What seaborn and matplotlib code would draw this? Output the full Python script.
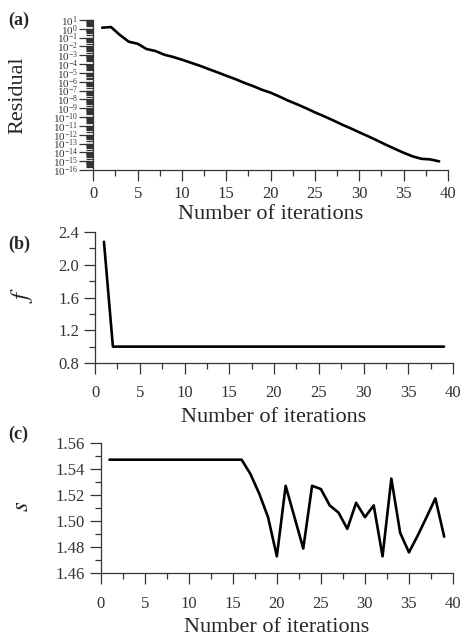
import numpy as np
import pandas as pd
import matplotlib
matplotlib.use("Agg")
import matplotlib.pyplot as plt
import matplotlib.ticker as mticker
import seaborn as sns

# ---------------- data ----------------
iterations = list(range(1, 40))

# panel (a): log10 of residual
residual_log10 = [0.13, 0.20, -0.70, -1.46, -1.69, -2.29, -2.51, -2.93, -3.19, -3.50,
                  -3.84, -4.18, -4.56, -4.93, -5.32, -5.69, -6.11, -6.48, -6.90, -7.24,
                  -7.68, -8.15, -8.56, -9.00, -9.47, -9.90, -10.35, -10.83, -11.27, -11.73,
                  -12.18, -12.65, -13.14, -13.60, -14.05, -14.45, -14.73, -14.80, -15.02]

# panel (b)
f_values = [2.28] + [1.0] * 38

# panel (c)
s_values = [1.547] * 16 + [1.536, 1.521, 1.503, 1.473, 1.527, 1.503, 1.479, 1.527,
                           1.5245, 1.512, 1.5065, 1.494, 1.514, 1.503, 1.512, 1.473,
                           1.5325, 1.491, 1.476, 1.489, 1.503, 1.5174, 1.488]

df = pd.DataFrame({"it": iterations,
                   "res": [10.0 ** v for v in residual_log10],
                   "f": f_values,
                   "s": s_values})

# ---------------- style ----------------
sns.set_style("ticks")
plt.rcParams["font.family"] = ["Liberation Serif", "DejaVu Serif"]
plt.rcParams["mathtext.fontset"] = "stix"
plt.rcParams["axes.linewidth"] = 0.9
plt.rcParams["xtick.color"] = "#333333"
plt.rcParams["ytick.color"] = "#333333"

fig = plt.figure(figsize=(4.74, 6.41), dpi=100)
W, H = 474, 641

def mkax(l, r, t, b):
    return fig.add_axes([l / W, 1 - b / H, (r - l) / W, (b - t) / H])

axA = mkax(93.3, 448, 20, 170)
axB = mkax(95, 453, 232, 363)
axC = mkax(100.7, 453, 442.7, 573.3)

lw = 1.9
sns.lineplot(data=df, x="it", y="res", ax=axA, color="black", lw=lw)
sns.lineplot(data=df, x="it", y="f", ax=axB, color="black", lw=lw)
sns.lineplot(data=df, x="it", y="s", ax=axC, color="black", lw=lw)

for ax in (axA, axB, axC):
    sns.despine(ax=ax)
    ax.set_xlim(0, 40)
    ax.xaxis.set_major_locator(mticker.MultipleLocator(5))
    ax.xaxis.set_minor_locator(mticker.MultipleLocator(2.5))
    ax.tick_params(which="major", direction="out", length=8, width=0.9, labelsize=12)
    ax.tick_params(which="minor", direction="out", length=4, width=0.9)
    for sp in ax.spines.values():
        sp.set_color("#333333")

axA.set_xlabel("Number of iterations", fontsize=16, labelpad=2)
for ax in (axB, axC):
    ax.tick_params(axis="x", which="major", pad=8)
    ax.set_xlabel("Number of iterations", fontsize=16, labelpad=5)

# panel (a) log axis
axA.set_yscale("log")
axA.set_ylim(1e-16, 1e1)
axA.yaxis.set_major_locator(mticker.LogLocator(base=10, numticks=100))
axA.yaxis.set_minor_locator(mticker.LogLocator(base=10, subs=np.arange(2, 10), numticks=100))
axA.yaxis.set_major_formatter(mticker.LogFormatterMathtext())
axA.yaxis.set_minor_formatter(mticker.NullFormatter())
axA.tick_params(axis="y", which="major", labelsize=8, length=10, pad=1)
axA.tick_params(axis="y", which="minor", length=5)
axA.set_ylabel("Residual", fontsize=16)
axA.yaxis.set_label_coords(-0.187, 0.5)

# panel (b)
axB.set_ylim(0.8, 2.4)
axB.yaxis.set_major_locator(mticker.MultipleLocator(0.4))
axB.yaxis.set_minor_locator(mticker.MultipleLocator(0.2))
axB.yaxis.set_major_formatter(mticker.FormatStrFormatter("%.1f"))
axB.set_ylabel("$f$", fontsize=18)
axB.yaxis.set_label_coords(-0.168, 0.52)

# panel (c)
axC.set_ylim(1.46, 1.56)
axC.yaxis.set_major_locator(mticker.MultipleLocator(0.02))
axC.yaxis.set_minor_locator(mticker.MultipleLocator(0.01))
axC.yaxis.set_major_formatter(mticker.FormatStrFormatter("%.2f"))
axC.set_ylabel("$s$", fontsize=18)
axC.yaxis.set_label_coords(-0.193, 0.51)

# panel letters
for lab, y in (("(a)", 20), ("(b)", 244), ("(c)", 434)):
    fig.text(8 / W, 1 - y / H, lab, fontsize=13, fontweight="bold", va="center", ha="left")

fig.savefig("out.png", dpi=100)
